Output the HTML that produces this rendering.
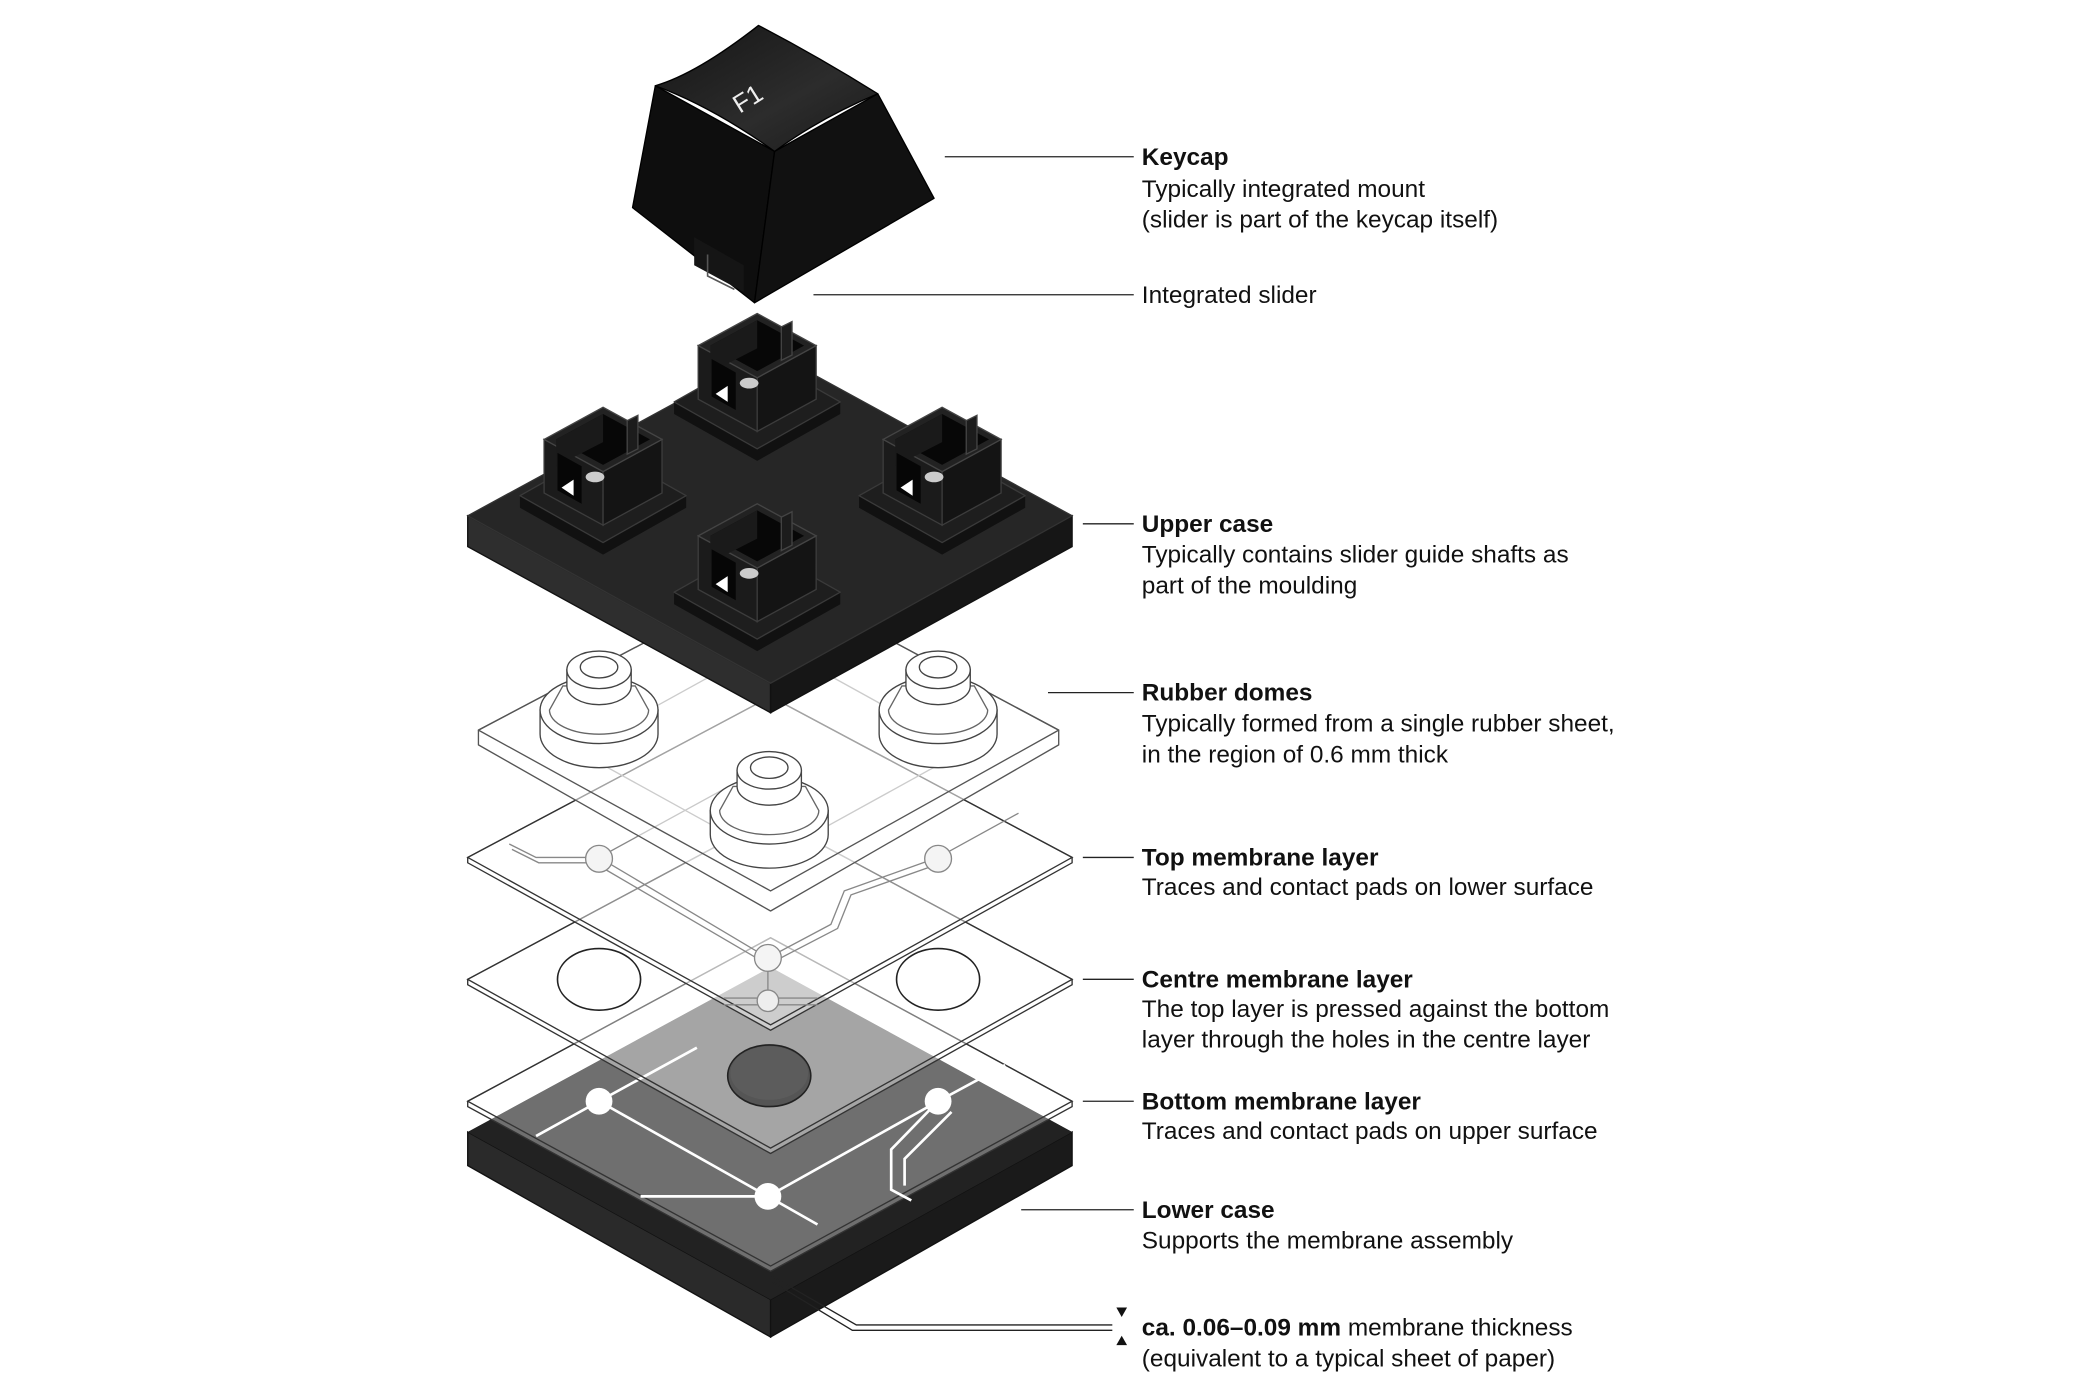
<!DOCTYPE html>
<html><head><meta charset="utf-8"><style>
html,body{margin:0;padding:0;background:#fff;}
svg{display:block}
text{font-family:"Liberation Sans",sans-serif;font-size:18.2px;fill:#111}
.b{font-weight:bold}
</style></head><body>
<svg width="2100" height="1400" viewBox="0 0 1567 1045" preserveAspectRatio="none" xmlns="http://www.w3.org/2000/svg">
<defs>
<linearGradient id="kt" x1="0" y1="0" x2="1" y2="1">
<stop offset="0" stop-color="#151515"/><stop offset="0.6" stop-color="#2c2c2c"/><stop offset="1" stop-color="#1a1a1a"/>
</linearGradient>
<g id="guide">
<polygon points="-62,0 0,35 62,0 62,9 0,44 -62,9" fill="#111"/>
<polygon points="-62,0 0,-35 62,0 0,35" fill="#1e1e1e" stroke="#3a3a3a" stroke-width="1" stroke-linejoin="round"/>
<polygon points="-44,-42 0,-18 0,22 -44,-2" fill="#1b1b1b" stroke="#3c3c3c"/>
<polygon points="0,-18 44,-42 44,-2 0,22" fill="#141414" stroke="#3c3c3c"/>
<polygon points="-44,-42 0,-66 44,-42 0,-18" fill="#222" stroke="#444"/>
<polygon points="-35,-42 0,-61 35,-42 0,-23" fill="#070707"/>
<polygon points="-35,-42 0,-61 0,-40 -35,-22" fill="#1a1a1a"/>
<polygon points="-34,-32 -16,-22 -16,6 -34,-4" fill="#060606"/>
<polygon points="-31,-6 -22,-12 -22,0" fill="#fff"/>
<ellipse cx="-6" cy="-14" rx="7" ry="4" fill="#ccc"/>
<polygon points="18,-31 26,-35 26,-60 18,-56" fill="#1c1c1c" stroke="#444"/>
</g>
</defs>

<polygon points="349,845 575,722 800,845 800,870 575,998 349,870" fill="#1f1f1f"/>
<polygon points="349,845 575,970 575,998 349,870" fill="#2a2a2a" stroke="#111"/>
<polygon points="575,970 800,845 800,870 575,998" fill="#1a1a1a" stroke="#111"/>
<polygon points="349,845 575,722 800,845 575,970" fill="#222"/>

<polygon points="349,822 575,700 800,822 800,826 575,949 349,826" fill="rgba(255,255,255,0.35)" stroke="#333" stroke-width="1"/>
<polygon points="349,822 575,700 800,822 575,945" fill="none" stroke="#333" stroke-width="1"/>
<g stroke="#fff" stroke-width="2" fill="none">
<polyline points="400,848 447,822 520,782"/>
<polyline points="447,822 573,893 700,822 750,795"/>
<polyline points="478,893 573,893 610,914"/>
<polyline points="700,822 665,858 665,888 680,896"/>
<polyline points="710,830 675,865 675,885"/>
</g>
<circle cx="447" cy="822" r="10" fill="#fff"/>
<circle cx="700" cy="822" r="10" fill="#fff"/>
<circle cx="573" cy="893" r="10" fill="#fff"/>

<polygon points="349,731 575,610 800,731 800,735 575,861 349,735" fill="rgba(255,255,255,0.38)" stroke="#333" stroke-width="1"/>
<polygon points="349,731 575,610 800,731 575,857" fill="none" stroke="#333" stroke-width="1"/>
<ellipse cx="447" cy="731" rx="31" ry="23" fill="#fff" stroke="#222" stroke-width="1.2"/>
<ellipse cx="700" cy="731" rx="31" ry="23" fill="#fff" stroke="#222" stroke-width="1.2"/>
<ellipse cx="574" cy="803" rx="31" ry="23" fill="#555" stroke="#222" stroke-width="1.2"/>
<ellipse cx="574" cy="801" rx="29" ry="20" fill="#5c5c5c"/>

<polygon points="349,640 575,520 800,640 800,644 575,769 349,644" fill="rgba(255,255,255,0.45)" stroke="#333" stroke-width="1"/>
<polygon points="349,640 575,520 800,640 575,765" fill="none" stroke="#333" stroke-width="1"/>
<g stroke="#888" stroke-width="1" fill="none">
<polyline points="380,630 400,640 447,640 575,570"/>
<polyline points="382,634 402,644 447,644"/>
<polyline points="447,640 573,715 620,690 630,665 700,640 760,607"/>
<polyline points="450,648 573,720 625,693 635,668 700,645"/>
<polyline points="573,715 573,745"/>
<polyline points="540,745 610,745"/>
<polyline points="540,750 610,750"/>
</g>
<circle cx="447" cy="641" r="10" fill="#f4f4f4" stroke="#888"/>
<circle cx="700" cy="641" r="10" fill="#f4f4f4" stroke="#888"/>
<circle cx="573" cy="715" r="10" fill="#f4f4f4" stroke="#888"/>
<circle cx="573" cy="747" r="8" fill="#eee" stroke="#888"/>

<polygon points="357,545 575,430 790,545 790,556 575,680 357,556" fill="rgba(255,255,255,0.55)" stroke="#555" stroke-width="1" stroke-linejoin="round"/>
<polygon points="357,545 575,430 790,545 575,665" fill="none" stroke="#555" stroke-width="1" stroke-linejoin="round"/>
<g stroke="#ccc" stroke-width="1" fill="none">
<polyline points="430,560 575,480 720,560 575,640 430,560"/>
</g>
<g fill="#fff" stroke="#444" stroke-width="1">
<g id="dome">
<path d="M403,530 L403,548 A44,25 0 0 0 491,548 L491,530 Z" />
<ellipse cx="447" cy="530" rx="44" ry="25"/>
<path d="M420,512 L410,530 A37,18 0 0 0 484,530 L474,512 Z" stroke="#666"/>
<path d="M423,500 L423,512 A24,14 0 0 0 471,512 L471,500 Z"/>
<ellipse cx="447" cy="500" rx="24" ry="14"/>
<ellipse cx="447" cy="498" rx="14" ry="8"/>
</g>
<use href="#dome" x="253" y="0"/>
<use href="#dome" x="127" y="75"/>
</g>

<polygon points="349,385 575,262 800,385 800,408 575,532 349,408" fill="#1c1c1c"/>
<polygon points="349,385 575,510 575,532 349,408" fill="#2e2e2e" stroke="#111"/>
<polygon points="575,510 800,385 800,408 575,532" fill="#161616" stroke="#111"/>
<polygon points="349,385 575,262 800,385 575,510" fill="#262626" stroke="#333"/>
<use href="#guide" x="565" y="300"/>
<use href="#guide" x="450" y="370"/>
<use href="#guide" x="703" y="370"/>
<use href="#guide" x="565" y="442"/>

<polygon points="489,64 578,113 563,226 472,155" fill="#0e0e0e" stroke="#000" stroke-linejoin="round"/>
<polygon points="578,113 655,70 697,148 563,226" fill="#111" stroke="#000" stroke-linejoin="round"/>
<polygon points="518,177 555,198 555,218 518,198" fill="#151515"/>
<polyline points="528,190 528,206 548,216" fill="none" stroke="#555" stroke-width="1.2"/>
<path d="M489,64 Q520,55 566,19 Q610,42 655,70 Q612,88 578,113 Q532,80 489,64 Z" fill="url(#kt)" stroke="#000" stroke-linejoin="round"/>
<text x="0" y="0" transform="translate(552,85) rotate(-32)" style="fill:#eee;font-size:19px">F1</text>

<g stroke="#222" stroke-width="1">
<line x1="705" y1="117" x2="846" y2="117"/>
<line x1="607" y1="220" x2="846" y2="220"/>
<line x1="808" y1="391" x2="846" y2="391"/>
<line x1="782" y1="517" x2="846" y2="517"/>
<line x1="808" y1="640" x2="846" y2="640"/>
<line x1="808" y1="731" x2="846" y2="731"/>
<line x1="808" y1="822" x2="846" y2="822"/>
<line x1="762" y1="903" x2="846" y2="903"/>
<polyline points="575,952 639,989 830,989" fill="none"/>
<polyline points="575,956 636,993 830,993" fill="none"/>
</g>
<polygon points="833,976 841,976 837,983" fill="#111"/>
<polygon points="833,1004 841,1004 837,997" fill="#111"/>

<text x="852" y="123" class="b">Keycap</text>
<text x="852" y="147">Typically integrated mount</text>
<text x="852" y="170">(slider is part of the keycap itself)</text>
<text x="852" y="226">Integrated slider</text>
<text x="852" y="397" class="b">Upper case</text>
<text x="852" y="420">Typically contains slider guide shafts as</text>
<text x="852" y="443">part of the moulding</text>
<text x="852" y="523" class="b">Rubber domes</text>
<text x="852" y="546">Typically formed from a single rubber sheet,</text>
<text x="852" y="569">in the region of 0.6 mm thick</text>
<text x="852" y="646" class="b">Top membrane layer</text>
<text x="852" y="668">Traces and contact pads on lower surface</text>
<text x="852" y="737" class="b">Centre membrane layer</text>
<text x="852" y="759">The top layer is pressed against the bottom</text>
<text x="852" y="782">layer through the holes in the centre layer</text>
<text x="852" y="828" class="b">Bottom membrane layer</text>
<text x="852" y="850">Traces and contact pads on upper surface</text>
<text x="852" y="909" class="b">Lower case</text>
<text x="852" y="932">Supports the membrane assembly</text>
<text x="852" y="997"><tspan style="font-weight:bold">ca. 0.06–0.09 mm</tspan> membrane thickness</text>
<text x="852" y="1020">(equivalent to a typical sheet of paper)</text>
</svg>
</body></html>
